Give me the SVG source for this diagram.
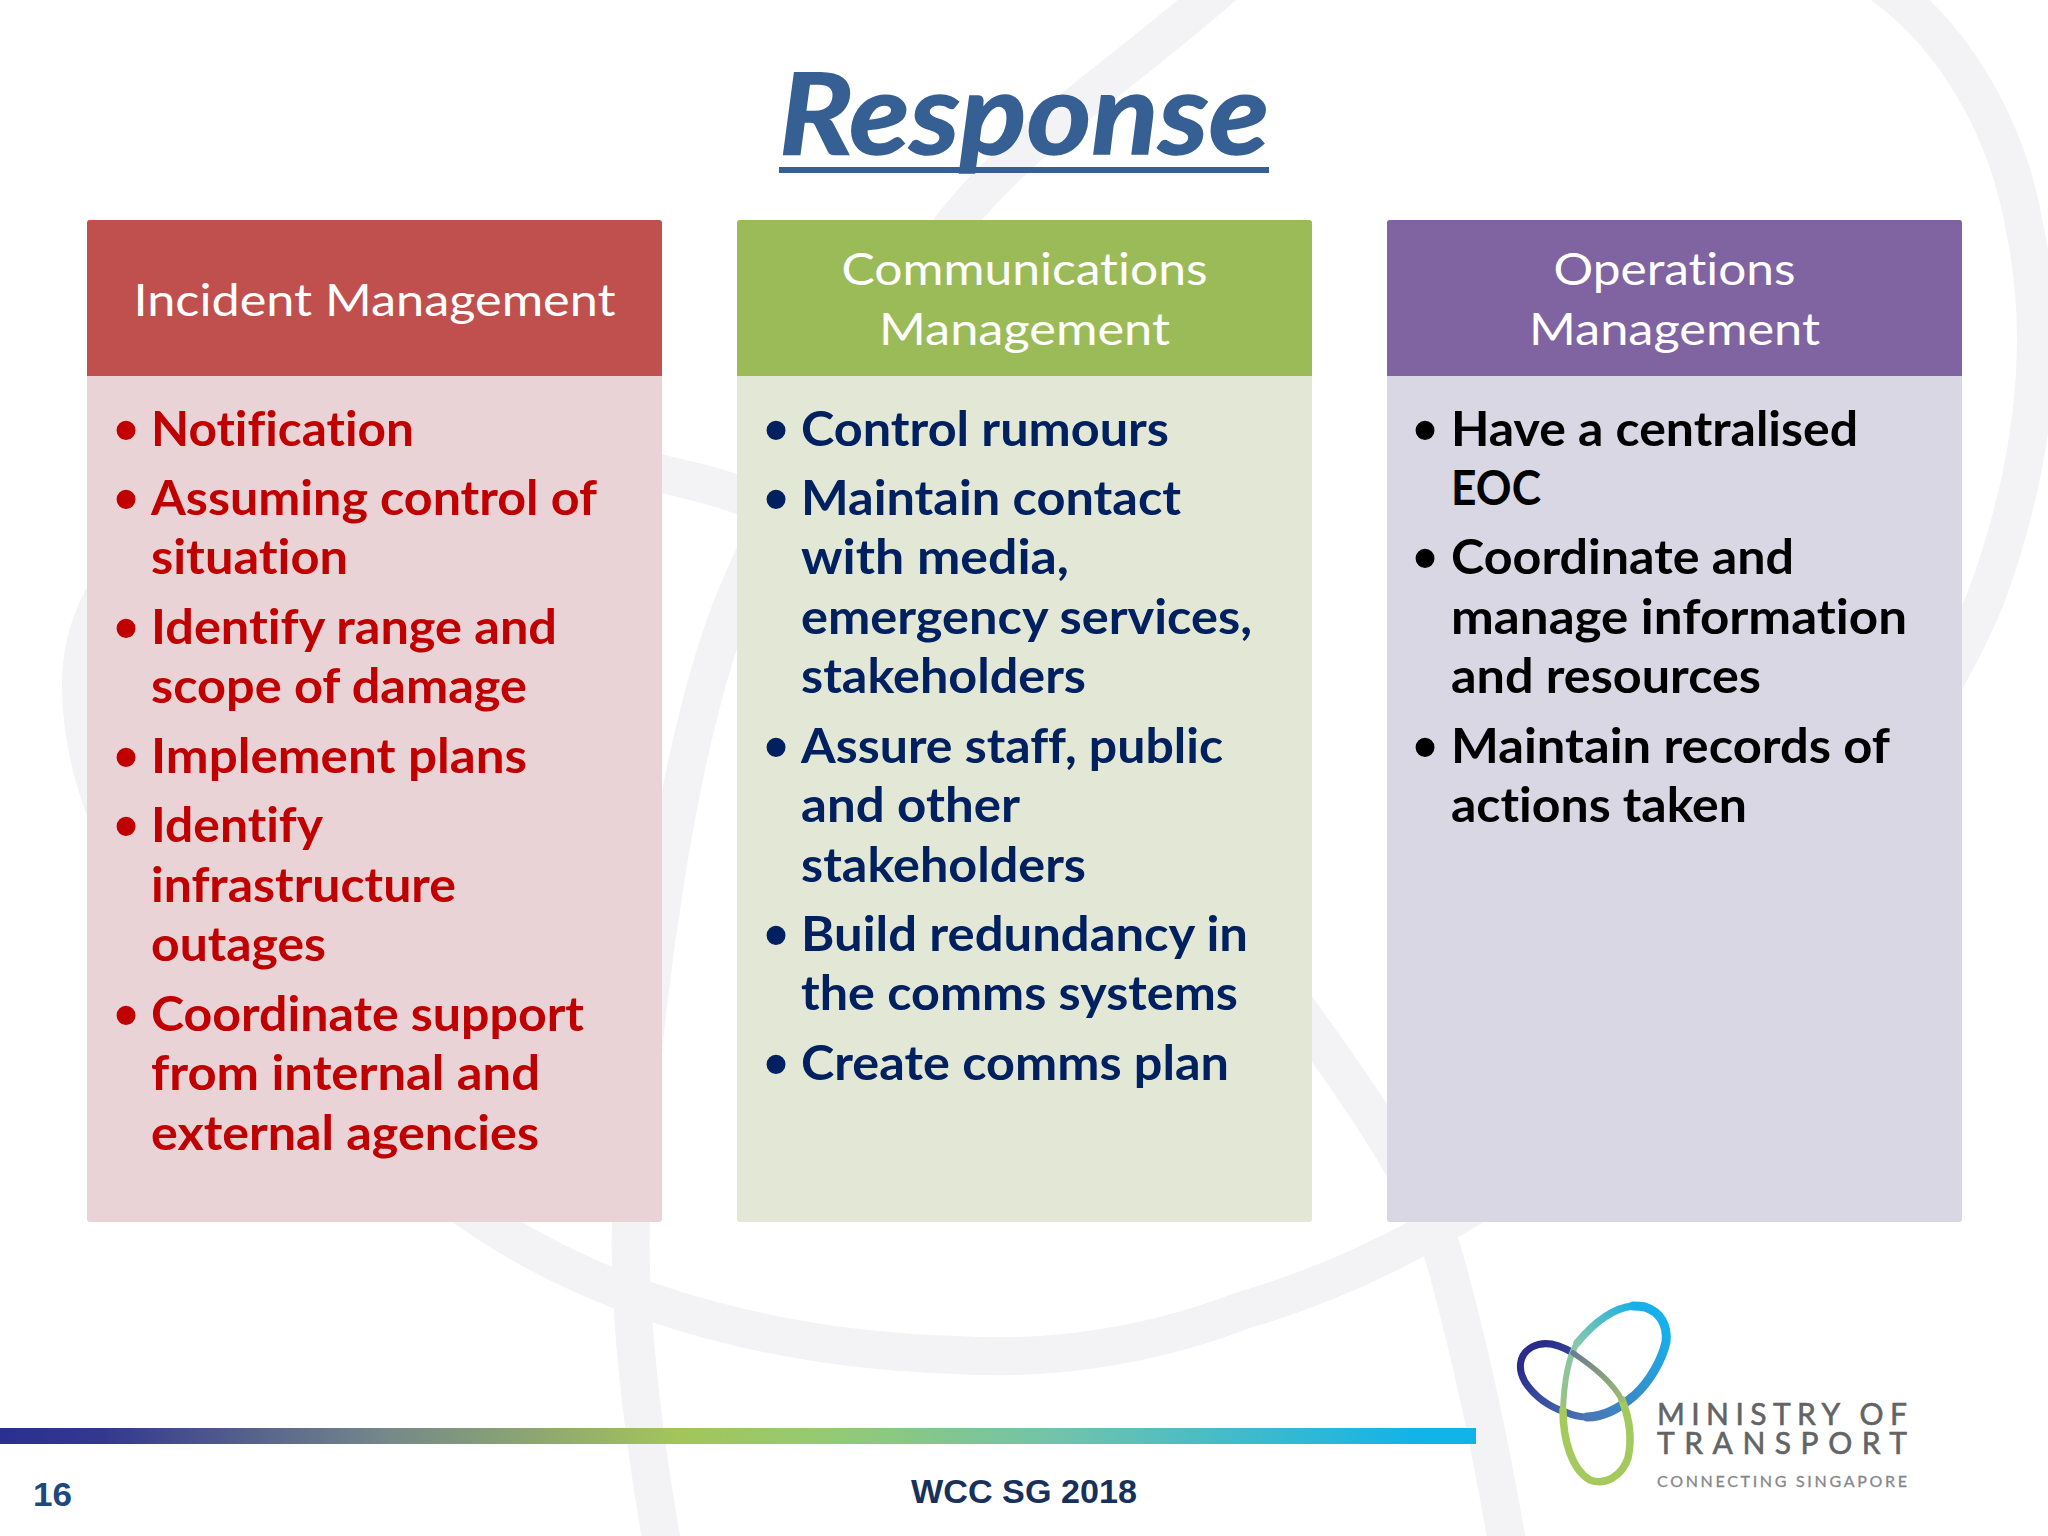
<svg xmlns="http://www.w3.org/2000/svg" width="2048" height="1536" viewBox="0 0 2048 1536">
<style>
.sw{fill:none;stroke:#f3f3f5;stroke-width:38}
.hd{font:400 44px Lato,"Liberation Sans",sans-serif;font-variant-ligatures:none;fill:#fff;text-anchor:middle}
.bd{font:700 47px Lato,"Liberation Sans",sans-serif;font-variant-ligatures:none}
.bu{font:700 66px "Liberation Sans",Arial,sans-serif;text-anchor:middle}
.r{fill:#c00000}.n{fill:#002060}.k{fill:#000}
.ft{font:700 33px "Liberation Sans",Arial,sans-serif}
.lg{fill:none;stroke-linecap:round}
.lt{font-family:Lato,"Liberation Sans",sans-serif;font-weight:400}
</style>
<defs>
<linearGradient id="bar" x1="0" x2="1476" y1="0" y2="0" gradientUnits="userSpaceOnUse">
<stop offset="0" stop-color="#2b2f8f"/><stop offset=".07" stop-color="#33388f"/><stop offset=".26" stop-color="#76878a"/><stop offset=".46" stop-color="#a3c55a"/><stop offset=".56" stop-color="#94ca72"/><stop offset=".72" stop-color="#70c3ad"/><stop offset=".96" stop-color="#12b3e8"/><stop offset="1" stop-color="#12b3e8"/>
</linearGradient>
<linearGradient id="g1" x1="1530" y1="1360" x2="1587" y2="1417" gradientUnits="userSpaceOnUse"><stop offset="0" stop-color="#2a2c8c"/><stop offset="1" stop-color="#4a76b6"/></linearGradient>
<linearGradient id="g2" x1="1587" y1="1417" x2="1666" y2="1330" gradientUnits="userSpaceOnUse"><stop offset="0" stop-color="#4a76b6"/><stop offset="1" stop-color="#17b0e8"/></linearGradient>
<linearGradient id="g3" x1="1633" y1="1306" x2="1577" y2="1343" gradientUnits="userSpaceOnUse"><stop offset="0" stop-color="#19b0e6"/><stop offset="1" stop-color="#84c8ac"/></linearGradient>
<linearGradient id="g4" x1="1577" y1="1343" x2="1563" y2="1410" gradientUnits="userSpaceOnUse"><stop offset="0" stop-color="#84c8ac"/><stop offset="1" stop-color="#9cc07e"/></linearGradient>
<linearGradient id="g6" x1="1622" y1="1400" x2="1573" y2="1353" gradientUnits="userSpaceOnUse"><stop offset="0" stop-color="#9cbc74"/><stop offset="1" stop-color="#6a7c8c"/></linearGradient>
</defs>
<rect width="2048" height="1536" fill="#fff"/>
<g id="background-swooshes">
<path class="sw" d="M1230,-20 C1130,70 1030,130 957,220 C860,340 790,470 737,594 C680,730 640,1000 631,1222 C628,1320 645,1450 665,1560"/>
<path class="sw" d="M1860,-30 C1960,30 2010,140 2025,230 C2050,350 2030,480 1985,600 C1930,730 1790,930 1622,1095 C1500,1200 1380,1270 1244,1310 C1140,1350 1040,1360 957,1355 C790,1350 620,1310 486,1222 C300,1100 85,900 81,690 C78,560 200,470 400,450 C500,442 590,455 700,483 C960,550 1180,840 1312,1029 C1370,1110 1425,1190 1445,1260 C1470,1350 1490,1440 1510,1560"/>
</g>
<rect id="footer-bar" x="0" y="1428" width="1476" height="16" fill="url(#bar)"/>
<g id="title">
<text x="779" y="154" font-family="Lato,'Liberation Sans',sans-serif" font-weight="700" font-style="italic" font-size="113" fill="#365f93" stroke="#365f93" stroke-width="1.500" textLength="490" lengthAdjust="spacingAndGlyphs">Response</text>
<rect x="779" y="167" width="490" height="6" fill="#365f93"/>
</g>
<g id="incident-management">
<rect x="87" y="220" width="575" height="1002" rx="3" fill="#ead3d6"/>
<path d="M87,376V223a3,3 0 0 1 3,-3H659a3,3 0 0 1 3,3V376Z" fill="#c0504d"/>
<text class="hd" x="374.500" y="316" textLength="482" lengthAdjust="spacingAndGlyphs">Incident Management</text>
<g class="r">
<text class="bu" x="126" y="451.500">•</text><text class="bu" x="126" y="520.500">•</text><text class="bu" x="126" y="649.500">•</text><text class="bu" x="126" y="778.500">•</text><text class="bu" x="126" y="847.500">•</text><text class="bu" x="126" y="1036.500">•</text>
<text class="bd" x="151" y="446" textLength="263" lengthAdjust="spacingAndGlyphs">Notification</text>
<text class="bd" x="151" y="515" textLength="446" lengthAdjust="spacingAndGlyphs">Assuming control of</text>
<text class="bd" x="151" y="574" textLength="197" lengthAdjust="spacingAndGlyphs">situation</text>
<text class="bd" x="151" y="644" textLength="406" lengthAdjust="spacingAndGlyphs">Identify range and</text>
<text class="bd" x="151" y="703" textLength="376" lengthAdjust="spacingAndGlyphs">scope of damage</text>
<text class="bd" x="151" y="773" textLength="376" lengthAdjust="spacingAndGlyphs">Implement plans</text>
<text class="bd" x="151" y="842" textLength="172" lengthAdjust="spacingAndGlyphs">Identify</text>
<text class="bd" x="151" y="902" textLength="305" lengthAdjust="spacingAndGlyphs">infrastructure</text>
<text class="bd" x="151" y="961" textLength="175" lengthAdjust="spacingAndGlyphs">outages</text>
<text class="bd" x="151" y="1031" textLength="433" lengthAdjust="spacingAndGlyphs">Coordinate support</text>
<text class="bd" x="151" y="1090" textLength="389" lengthAdjust="spacingAndGlyphs">from internal and</text>
<text class="bd" x="151" y="1150" textLength="388" lengthAdjust="spacingAndGlyphs">external agencies</text>
</g>
</g>
<g id="communications-management">
<rect x="737" y="220" width="575" height="1002" rx="3" fill="#e2e8d5"/>
<path d="M737,376V223a3,3 0 0 1 3,-3H1309a3,3 0 0 1 3,3V376Z" fill="#9bbb59"/>
<text class="hd" x="1024.500" y="285" textLength="366" lengthAdjust="spacingAndGlyphs">Communications</text>
<text class="hd" x="1024.500" y="345" textLength="291" lengthAdjust="spacingAndGlyphs">Management</text>
<g class="n">
<text class="bu" x="776" y="451.500">•</text><text class="bu" x="776" y="520.500">•</text><text class="bu" x="776" y="768.500">•</text><text class="bu" x="776" y="956.500">•</text><text class="bu" x="776" y="1085.500">•</text>
<text class="bd" x="801" y="446" textLength="368" lengthAdjust="spacingAndGlyphs">Control rumours</text>
<text class="bd" x="801" y="515" textLength="380" lengthAdjust="spacingAndGlyphs">Maintain contact</text>
<text class="bd" x="801" y="574" textLength="268" lengthAdjust="spacingAndGlyphs">with media,</text>
<text class="bd" x="801" y="634" textLength="451" lengthAdjust="spacingAndGlyphs">emergency services,</text>
<text class="bd" x="801" y="693" textLength="285" lengthAdjust="spacingAndGlyphs">stakeholders</text>
<text class="bd" x="801" y="763" textLength="422" lengthAdjust="spacingAndGlyphs">Assure staff, public</text>
<text class="bd" x="801" y="822" textLength="219" lengthAdjust="spacingAndGlyphs">and other</text>
<text class="bd" x="801" y="882" textLength="285" lengthAdjust="spacingAndGlyphs">stakeholders</text>
<text class="bd" x="801" y="951" textLength="447" lengthAdjust="spacingAndGlyphs">Build redundancy in</text>
<text class="bd" x="801" y="1010" textLength="437" lengthAdjust="spacingAndGlyphs">the comms systems</text>
<text class="bd" x="801" y="1080" textLength="428" lengthAdjust="spacingAndGlyphs">Create comms plan</text>
</g>
</g>
<g id="operations-management">
<rect x="1387" y="220" width="575" height="1002" rx="3" fill="#dad7e4"/>
<path d="M1387,376V223a3,3 0 0 1 3,-3H1959a3,3 0 0 1 3,3V376Z" fill="#8064a2"/>
<text class="hd" x="1674.500" y="285" textLength="242" lengthAdjust="spacingAndGlyphs">Operations</text>
<text class="hd" x="1674.500" y="345" textLength="291" lengthAdjust="spacingAndGlyphs">Management</text>
<g class="k">
<text class="bu" x="1425" y="451.500">•</text><text class="bu" x="1425" y="579.500">•</text><text class="bu" x="1425" y="768.500">•</text>
<text class="bd" x="1451" y="446" textLength="407" lengthAdjust="spacingAndGlyphs">Have a centralised</text>
<text class="bd" x="1451" y="505" textLength="90" lengthAdjust="spacingAndGlyphs">EOC</text>
<text class="bd" x="1451" y="574" textLength="343" lengthAdjust="spacingAndGlyphs">Coordinate and</text>
<text class="bd" x="1451" y="634" textLength="456" lengthAdjust="spacingAndGlyphs">manage information</text>
<text class="bd" x="1451" y="693" textLength="310" lengthAdjust="spacingAndGlyphs">and resources</text>
<text class="bd" x="1451" y="763" textLength="439" lengthAdjust="spacingAndGlyphs">Maintain records of</text>
<text class="bd" x="1451" y="822" textLength="296" lengthAdjust="spacingAndGlyphs">actions taken</text>
</g>
</g>
<g id="footer">
<text class="ft" x="33" y="1506" fill="#1f497d" textLength="39" lengthAdjust="spacingAndGlyphs">16</text>
<text class="ft" x="911" y="1503" fill="#17315c" textLength="226" lengthAdjust="spacingAndGlyphs">WCC SG 2018</text>
</g>
<g id="logo">
<path class="lg" stroke="url(#g1)" stroke-width="7" d="M1573,1353 C1560,1345 1545,1340 1532,1347 C1518,1355 1518,1370 1525,1382 C1535,1397 1550,1407 1565,1412 C1572,1415 1580,1417 1587,1417"/>
<path class="lg" stroke="url(#g2)" stroke-width="9" d="M1587,1417 C1603,1417 1620,1408 1635,1395 C1650,1381 1662,1360 1666,1342 C1668,1325 1660,1312 1645,1307 C1640,1306 1636,1306 1633,1306"/>
<path class="lg" stroke="url(#g3)" stroke-width="7.500" d="M1633,1306 C1612,1308 1592,1325 1577,1343"/>
<path class="lg" stroke="url(#g4)" stroke-width="6" d="M1577,1343 C1568,1358 1564,1385 1563,1410"/>
<path class="lg" stroke="#a4c95c" stroke-width="7.500" d="M1563,1410 C1563,1440 1572,1470 1590,1480 C1605,1486 1622,1476 1628,1458 C1632,1440 1630,1420 1622,1400"/>
<path class="lg" stroke="url(#g6)" stroke-width="5.500" d="M1622,1400 C1612,1382 1595,1368 1573,1353"/>
<text class="lt" x="1657" y="1425" font-size="30" fill="#636466" stroke="#636466" stroke-width=".6" textLength="250" lengthAdjust="spacing">MINISTRY OF</text>
<text class="lt" x="1657" y="1454" font-size="30" fill="#636466" stroke="#636466" stroke-width=".6" textLength="250" lengthAdjust="spacing">TRANSPORT</text>
<text class="lt" x="1657" y="1487" font-size="16" fill="#85878a" stroke="#85878a" stroke-width=".3" textLength="250" lengthAdjust="spacing">CONNECTING SINGAPORE</text>
</g>
</svg>
